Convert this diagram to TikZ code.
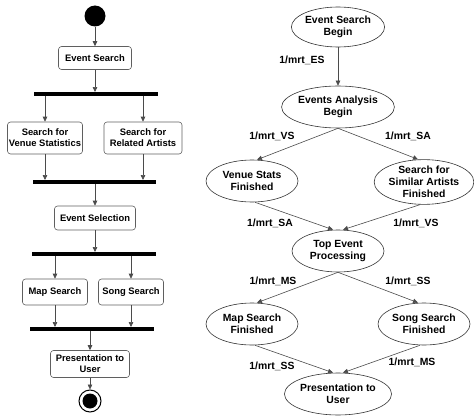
\documentclass[tikz,border=0pt]{standalone}
\usepackage{fontspec}
\setmainfont{Liberation Sans}
\usetikzlibrary{arrows.meta,shapes.geometric}
\definecolor{lcolor}{RGB}{75,75,75}
\definecolor{bcolor}{RGB}{95,95,95}

\tikzset{
  act/.style={draw=bcolor,rounded corners=3pt,align=center,inner sep=1pt,line width=0.6pt},
  bar/.style={fill=black,inner sep=0pt,minimum height=3.5pt},
  state/.style={draw=black!80,ellipse,align=center,inner sep=0pt,minimum width=92pt,minimum height=42pt,line width=0.6pt,font=\bfseries\fontsize{10.4}{12}\selectfont},
  rate/.style={font=\bfseries\fontsize{10.4}{12}\selectfont},
  flow/.style={-{Triangle[length=5pt,width=4.5pt]},draw=lcolor,line width=0.6pt}
}

\begin{document}
\begin{tikzpicture}[x=1pt,y=-1pt,font=\bfseries\fontsize{9.4}{11}\selectfont]
  \useasboundingbox (0,0) rectangle (474,420);
  % activity diagram (left)
  \node[circle,fill=black,minimum size=21pt,inner sep=0pt] (init) at (95,16) {};
  \node[act,minimum width=73pt,minimum height=23pt] (es) at (95,58) {Event Search};
  \node[bar,minimum width=124pt] (fork1) at (96,94) {};
  \node[act,minimum width=75pt,minimum height=32pt] (vs) at (45,138) {Search for\\Venue Statistics};
  \node[act,minimum width=78pt,minimum height=32pt] (ra) at (143,138) {Search for\\Related Artists};
  \node[bar,minimum width=123pt] (join1) at (94.5,182) {};
  \node[act,minimum width=81pt,minimum height=24pt] (sel) at (95,218) {Event Selection};
  \node[bar,minimum width=124pt] (fork2) at (94,254) {};
  \node[act,minimum width=65pt,minimum height=26pt] (map) at (55,292) {Map Search};
  \node[act,minimum width=65pt,minimum height=26pt] (song) at (131,292) {Song Search};
  \node[bar,minimum width=124pt] (join2) at (92,329) {};
  \node[act,minimum width=79pt,minimum height=27pt] (pres) at (90,364) {Presentation to\\User};
  \node[circle,draw=black,line width=1pt,minimum size=22pt,inner sep=0pt] (final) at (90,401) {};
  \node[circle,fill=black,minimum size=15pt,inner sep=0pt] (finaldot) at (final) {};

  \draw[flow] (init) -- (es);
  \draw[flow] (es) -- (es |- fork1.north);
  \draw[flow] (vs.north |- fork1.south) -- (vs);
  \draw[flow] (ra.north |- fork1.south) -- (ra);
  \draw[flow] (vs) -- (vs.south |- join1.north);
  \draw[flow] (ra) -- (ra.south |- join1.north);
  \draw[flow] (sel.north |- join1.south) -- (sel);
  \draw[flow] (sel) -- (sel.south |- fork2.north);
  \draw[flow] (map.north |- fork2.south) -- (map);
  \draw[flow] (song.north |- fork2.south) -- (song);
  \draw[flow] (map) -- (map.south |- join2.north);
  \draw[flow] (song) -- (song.south |- join2.north);
  \draw[flow] (pres.north |- join2.south) -- (pres);
  \draw[flow] (pres) -- (final);

  % state graph (right)
  \node[state,minimum width=78pt,minimum height=40pt] (esb) at (338,27) {Event Search\\Begin};
  \node[state] (ana) at (338,107) {Events Analysis\\Begin};
  \node[state] (vsf) at (252,181) {Venue Stats\\Finished};
  \node[state,minimum height=44pt] (saf) at (424,182) {Search for\\Similar Artists\\Finished};
  \node[state] (top) at (338,251) {Top Event\\Processing};
  \node[state] (msf) at (252,324) {Map Search\\Finished};
  \node[state] (ssf) at (424,324) {Song Search\\Finished};
  \node[state] (pres2) at (338,394) {Presentation to\\User};

  \node[rate] (rES) at (302,60) {1/mrt\_ES};
  \node[rate] (rVS) at (272,136) {1/mrt\_VS};
  \node[rate] (rSA) at (408,136) {1/mrt\_SA};
  \node[rate] (rSA2) at (270,223) {1/mrt\_SA};
  \node[rate] (rVS2) at (416,223) {1/mrt\_VS};
  \node[rate] (rMS) at (273,281) {1/mrt\_MS};
  \node[rate] (rSS) at (408,281) {1/mrt\_SS};
  \node[rate] (rSS2) at (272,366) {1/mrt\_SS};
  \node[rate] (rMS2) at (412,362) {1/mrt\_MS};

  \draw[flow] (esb) -- (ana);
  \draw[flow] (ana.south) -- ([xshift=5pt]vsf.north);
  \draw[flow] (ana.south) -- ([xshift=-6pt]saf.north);
  \draw[flow] ([xshift=3pt]vsf.south) -- ([xshift=-5pt]top.north);
  \draw[flow] ([xshift=-4pt]saf.south) -- ([xshift=5pt]top.north);
  \draw[flow] (top.south) -- ([xshift=5pt]msf.north);
  \draw[flow] (top.south) -- ([xshift=-6pt]ssf.north);
  \draw[flow] ([xshift=3pt]msf.south) -- ([xshift=-5pt]pres2.north);
  \draw[flow] ([xshift=-4pt]ssf.south) -- ([xshift=5pt]pres2.north);
\end{tikzpicture}
\end{document}
